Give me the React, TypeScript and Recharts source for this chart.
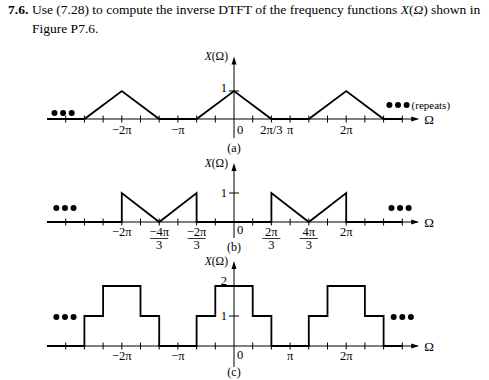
import React from 'react';
import { LineChart, Line, XAxis, YAxis, ReferenceLine, ReferenceDot } from 'recharts';

const FONT = '"Liberation Serif", "Times New Roman", serif';
const TS: React.CSSProperties = { fontFamily: FONT };

// Ω measured in units of π/3
const omegaA = [-10, -8, -6, -4, -2, 0, 2, 4, 6, 8, 9];
const valueA = [0, 0, 1, 0, 0, 1, 0, 0, 1, 0, 0];
const omegaB = [-10, -6, -6, -4, -2, -2, 2, 2, 4, 6, 6, 9];
const valueB = [0, 0, 1, 0, 1, 0, 0, 1, 0, 1, 0, 0];
const omegaC = [-10, -8, -8, -7, -7, -5, -5, -4, -4, -2, -2, -1, -1, 1, 1, 2, 2, 4, 4, 5, 5, 7, 7, 8, 8, 9];
const valueC = [0, 0, 1, 1, 2, 2, 1, 1, 0, 0, 1, 1, 2, 2, 1, 1, 0, 0, 1, 1, 2, 2, 1, 1, 0, 0];

const tickPositions = [-9, -8, -7, -6, -5, -4, -3, -2, -1, 0, 1, 2, 3, 4, 5, 6, 7, 8, 9];
const tickKeysA = [-6, -3, 0, 2, 3, 6];
const tickLabelsA = ['−2π', '−π', '0', '2π/3', 'π', '2π'];
const tickKeysB = [-6, -4, -2, 0, 2, 4, 6];
const tickLabelsB = ['−2π', '−4π/3', '−2π/3', '0', '2π/3', '4π/3', '2π'];
const tickKeysC = [-6, -3, 0, 3, 6];
const tickLabelsC = ['−2π', '−π', '0', 'π', '2π'];

const yTicksA = [1];
const yTicksB = [1];
const yTicksC = [1, 2];

type Cfg = {
  top: number;
  height: number;
  mTop: number;
  mBottom: number;
  yMax: number;
  yBottom: number;
  omega: number[];
  value: number[];
  tickKeys: number[];
  tickLabels: string[];
  stacked: boolean;
  labelDy: number;
  zeroDy: number;
  caption: string;
  captionDy: number;
  yTicks: number[];
  yLabelDy: number[];
  dotsLeft: [number, number];
  dotsRight: [number, number];
  repeats: boolean;
};

const DOT_STEP = 0.46;
const LF = 12.5;

const makeTick = (c: Cfg) => (props: any) => {
  const { x, y, payload } = props;
  const v = payload.value;
  const idx = c.tickKeys.indexOf(v);
  const label = idx >= 0 ? c.tickLabels[idx] : null;
  let labelEl: React.ReactNode = null;
  if (label !== null) {
    if (v === 0) {
      labelEl = (
        <g>
          <text x={x + 3} y={y + c.zeroDy + 4} fontSize={LF} style={TS} textAnchor="start" fill="#000">0</text>
          <text x={x} y={y + c.captionDy + 4} fontSize={12} style={TS} textAnchor="middle" fill="#000">{c.caption}</text>
        </g>
      );
    } else if (c.stacked && label.includes('/')) {
      const [num, den] = label.split('/');
      labelEl = (
        <g>
          <text x={x} y={y + c.labelDy + 4} fontSize={LF} style={TS} textAnchor="middle" fill="#000">{num}</text>
          <line x1={x - 9} x2={x + 9} y1={y + c.labelDy + 6.5} y2={y + c.labelDy + 6.5} stroke="#000" strokeWidth={0.8} />
          <text x={x} y={y + c.labelDy + 17} fontSize={LF} style={TS} textAnchor="middle" fill="#000">{den}</text>
        </g>
      );
    } else {
      labelEl = (
        <text x={x} y={y + c.labelDy + 4} fontSize={LF} style={TS} textAnchor="middle" fill="#000">{label}</text>
      );
    }
  }
  return (
    <g>
      {v !== 0 && <line x1={x} x2={x} y1={y - 3.5} y2={y + 3.5} stroke="#000" strokeWidth={1} />}
      {labelEl}
    </g>
  );
};

function Panel({ c }: { c: Cfg }) {
  const data = c.omega.map((x, i) => ({ x, y: c.value[i] }));
  const dotsL = [0, 1, 2].map((k) => c.dotsLeft[0] + (k - 1) * DOT_STEP);
  const dotsR = [0, 1, 2].map((k) => c.dotsRight[0] + (k - 1) * DOT_STEP);
  return (
    <div style={{ position: 'absolute', left: 0, top: c.top }}>
      <LineChart width={489} height={c.height} data={data} margin={{ top: c.mTop, right: 68, bottom: c.mBottom, left: 47 }}>
        <XAxis
          dataKey="x"
          type="number"
          domain={[-10, 10]}
          ticks={tickPositions}
          interval={0}
          axisLine={false}
          tickLine={false}
          tickSize={0}
          tickMargin={0}
          height={30}
          tick={makeTick(c)}
        />
        <YAxis hide domain={[0, c.yMax]} type="number" />
        <ReferenceLine segment={[{ x: -10, y: 0 }, { x: 9.8, y: 0 }]} stroke="#000" strokeWidth={1} ifOverflow="visible" />
        <ReferenceLine segment={[{ x: 0, y: c.yBottom }, { x: 0, y: c.yMax - 0.1 }]} stroke="#000" strokeWidth={1} ifOverflow="visible" />
        <ReferenceDot
          x={9.85}
          y={0}
          ifOverflow="visible"
          shape={(p: any) => (
            <g>
              <polygon points={`${p.cx + 1},${p.cy} ${p.cx - 7},${p.cy - 2.5} ${p.cx - 7},${p.cy + 2.5}`} fill="#000" />
              <text x={p.cx + 6} y={p.cy + 4.5} fontSize={13} style={TS} fill="#000">Ω</text>
            </g>
          )}
        />
        <ReferenceDot
          x={0}
          y={c.yMax}
          ifOverflow="visible"
          shape={(p: any) => (
            <g>
              <polygon points={`${p.cx},${p.cy - 1} ${p.cx - 2.5},${p.cy + 7} ${p.cx + 2.5},${p.cy + 7}`} fill="#000" />
              <text x={p.cx - 6} y={p.cy + 3} fontSize={11.5} style={TS} textAnchor="end" fill="#000">
                <tspan fontStyle="italic">X</tspan>(Ω)
              </text>
            </g>
          )}
        />
        {c.yTicks.map((t, i) => (
          <ReferenceDot
            key={'yt' + t}
            x={0}
            y={t}
            ifOverflow="visible"
            shape={(p: any) => (
              <g>
                <line x1={p.cx - 5} x2={p.cx + 5} y1={p.cy} y2={p.cy} stroke="#000" strokeWidth={1} />
                <text x={p.cx - 7} y={p.cy + 4 + c.yLabelDy[i]} fontSize={LF} style={TS} textAnchor="end" fill="#000">{t}</text>
              </g>
            )}
          />
        ))}
        <Line type="linear" dataKey="y" stroke="#000" strokeWidth={1.8} dot={false} isAnimationActive={false} strokeLinejoin="miter" />
        {dotsL.map((x) => (
          <ReferenceDot key={'l' + x} x={x} y={c.dotsLeft[1]} r={3} fill="#000" stroke="none" ifOverflow="visible" />
        ))}
        {dotsR.map((x) => (
          <ReferenceDot key={'r' + x} x={x} y={c.dotsRight[1]} r={3} fill="#000" stroke="none" ifOverflow="visible" />
        ))}
        {c.repeats && (
          <ReferenceDot
            x={dotsR[2]}
            y={c.dotsRight[1]}
            ifOverflow="visible"
            shape={(p: any) => (
              <text x={p.cx + 5} y={p.cy + 3.5} fontSize={11} style={TS} fill="#000">(repeats)</text>
            )}
          />
        )}
      </LineChart>
    </div>
  );
}

const panelA: Cfg = {
  top: 40, height: 115, mTop: 17.4, mBottom: 6, yMax: 2.2, yBottom: -0.68,
  omega: omegaA, value: valueA, tickKeys: tickKeysA, tickLabels: tickLabelsA,
  stacked: false, labelDy: 11, zeroDy: 11, caption: '(a)', captionDy: 29,
  yTicks: yTicksA, yLabelDy: [-3], dotsLeft: [-9.14, 0.21], dotsRight: [8.77, 0.5], repeats: true,
};
const panelB: Cfg = {
  top: 155, height: 100, mTop: 9, mBottom: 3, yMax: 2.0, yBottom: -0.55,
  omega: omegaB, value: valueB, tickKeys: tickKeysB, tickLabels: tickLabelsB,
  stacked: true, labelDy: 10, zeroDy: 8, caption: '(b)', captionDy: 25,
  yTicks: yTicksB, yLabelDy: [0], dotsLeft: [-9.04, 0.48], dotsRight: [8.88, 0.48], repeats: false,
};
const panelC: Cfg = {
  top: 255, height: 125, mTop: 7, mBottom: 4, yMax: 2.8, yBottom: -0.7,
  omega: omegaC, value: valueC, tickKeys: tickKeysC, tickLabels: tickLabelsC,
  stacked: false, labelDy: 10, zeroDy: 9, caption: '(c)', captionDy: 26,
  yTicks: yTicksC, yLabelDy: [0, -5], dotsLeft: [-9.04, 0.97], dotsRight: [9.0, 0.97], repeats: false,
};

export default function App() {
  const title: React.CSSProperties = { position: 'absolute', fontSize: 13.5, lineHeight: '17px', whiteSpace: 'nowrap' };
  return (
    <div style={{ position: 'absolute', left: 0, top: 0, width: 489, height: 380, background: '#fff', fontFamily: FONT, color: '#000' }}>
      <div style={{ ...title, left: 8, top: 1, fontWeight: 'bold' }}>7.6.</div>
      <div style={{ ...title, left: 32, top: 1 }}>
        Use (7.28) to compute the inverse DTFT of the frequency functions <i>X</i>(<i>Ω</i>) shown in
      </div>
      <div style={{ ...title, left: 32, top: 20 }}>Figure P7.6.</div>
      <Panel c={panelA} />
      <Panel c={panelB} />
      <Panel c={panelC} />
    </div>
  );
}
